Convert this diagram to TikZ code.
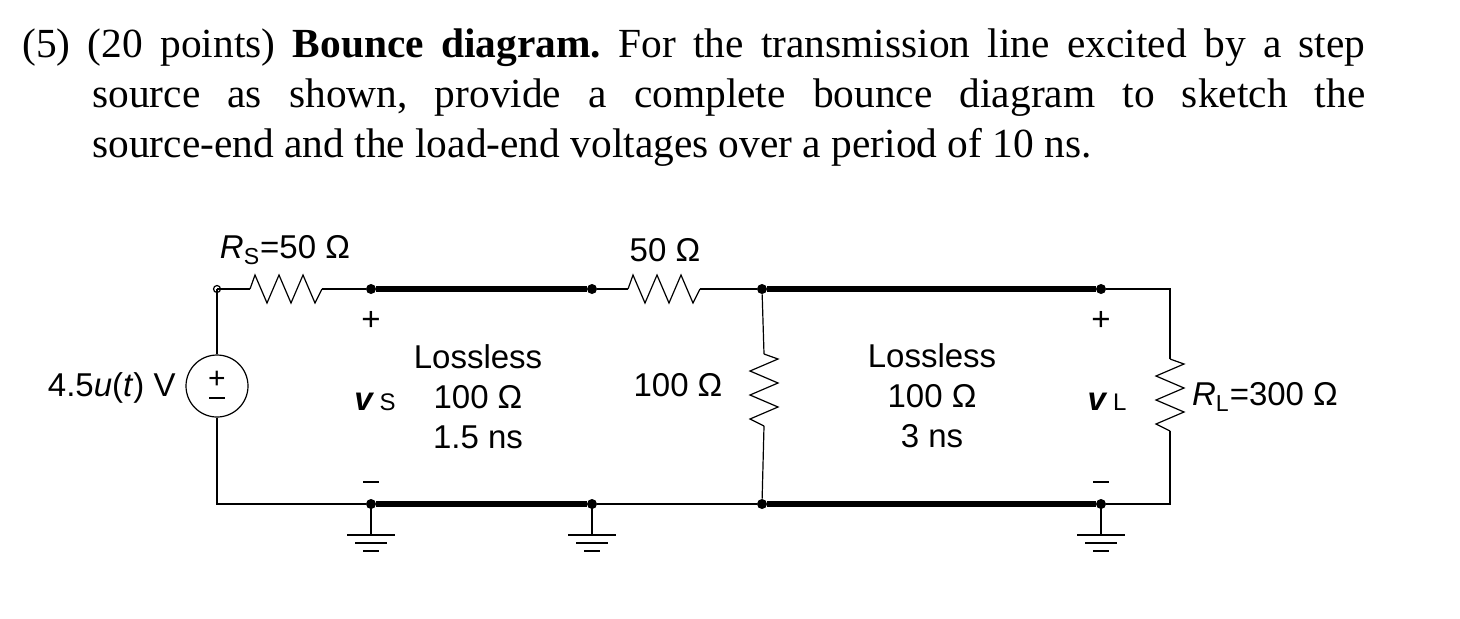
\documentclass[tikz,border=0pt]{standalone}
\usepackage{fontspec}
\setmainfont{Liberation Serif}
\newfontfamily\arial{Liberation Sans}
\begin{document}
\begin{tikzpicture}[x=0.5pt,y=-0.5pt,
  wire/.style={line width=0.6pt},
  tline/.style={line width=3pt},
  dot/.style={circle,fill=black,inner sep=0pt,minimum size=5pt},
  lbl/.style={font=\arial\fontsize{16.5}{19}\selectfont,inner sep=0pt},
  pics/hres/.style={code={\draw[wire] (0,0)--(5,-14)--(17,14)--(29,-14)--(41,14)--(53,-14)--(65,14)--(72,0);}},
  pics/gnd/.style={code={\draw[wire] (0,0)--(0,31) (-24,31)--(24,31) (-16,39)--(16,39) (-8,47)--(8,47);}}]
\useasboundingbox (0,0) rectangle (1460,618);
\node[anchor=north west,inner sep=0pt,text width=671.5pt,align=justify,
  font=\fontsize{20.7}{25}\selectfont] (title) at (22,28)
 {\frenchspacing\hangindent=35pt\hangafter=1 (5) (20 points) \textbf{Bounce diagram.} For the transmission line excited by a step\linebreak source as shown, provide a complete bounce diagram to sketch the\linebreak source-end and the load-end voltages over a period of 10~ns.\par};
% coordinates
\coordinate (src) at (217,289);
\coordinate (rs1) at (250,289); \coordinate (rs2) at (322,289);
\node[dot] (a1) at (371,289) {}; \node[dot] (a2) at (592,289) {};
\coordinate (r2a) at (628,289); \coordinate (r2b) at (700,289);
\node[dot] (b1) at (762,289) {}; \node[dot] (b2) at (1101,289) {};
\coordinate (rtc) at (1170,289); \coordinate (rbc) at (1170,504);
\node[dot] (c1) at (371,504) {}; \node[dot] (c2) at (592,504) {};
\node[dot] (d1) at (762,504) {}; \node[dot] (d2) at (1101,504) {};
\coordinate (srcb) at (217,504);
\node[circle,draw,line width=0.6pt,minimum size=31pt,inner sep=0pt] (V) at (217,386) {};
\node[lbl,font=\arial\fontsize{15}{16}\selectfont] at (217,380) {+}; \node[inner sep=0pt] at (217,398) {\rule{8pt}{0.6pt}};
\draw[wire,fill=white] (src) circle (3.5);
\pic at (rs1) {hres}; \pic at (r2a) {hres};
\pic[rotate=-90] at (764,354) {hres};
\pic[rotate=-90] at (1170,359) {hres};
\draw[wire] (src)--(rs1) (rs2)--(a1) (a2)--(r2a) (r2b)--(b1) (b2)--(rtc)--(1170,359) (1170,431)--(rbc)--(d2);
\draw[wire] (b1)--(764,354) (764,426)--(d1);
\draw[wire] (src)--(V.north) (V.south)--(srcb)--(c1) (c2)--(d1);
\draw[tline] (a1)--(a2) (b1)--(b2) (c1)--(c2) (d1)--(d2);
\pic at (c1) {gnd}; \pic at (c2) {gnd}; \pic at (d2) {gnd};
% labels
\node[lbl] at (285,250) {\textit{R}\textsubscript{S}=50 Ω};
\node[lbl] at (665,250) {50 Ω};
\node[lbl] at (678,385) {100 Ω};
\node[lbl,anchor=east] at (176,388) {4.5\textit{u}(\textit{t}) V};
\node[lbl] at (371,321) {+}; \node[inner sep=0pt] at (371,482) {\rule{8pt}{0.6pt}};
\node[lbl] at (1101,321) {+}; \node[inner sep=0pt] at (1101,482) {\rule{8pt}{0.6pt}};
\node[lbl] at (375,402) {\textbf{\textit{v}}\,\fontsize{12}{13}\selectfont S};
\node[lbl] at (1107,402) {\textbf{\textit{v}}\,\fontsize{12}{13}\selectfont L};
\node[lbl,align=center] at (478,397) {Lossless\\[1pt]100 Ω\\[1pt]1.5 ns};
\node[lbl,align=center] at (932,396) {Lossless\\[1pt]100 Ω\\[1pt]3 ns};
\node[lbl] at (1265,397) {\textit{R}\textsubscript{L}=300 Ω};
\end{tikzpicture}
\end{document}
